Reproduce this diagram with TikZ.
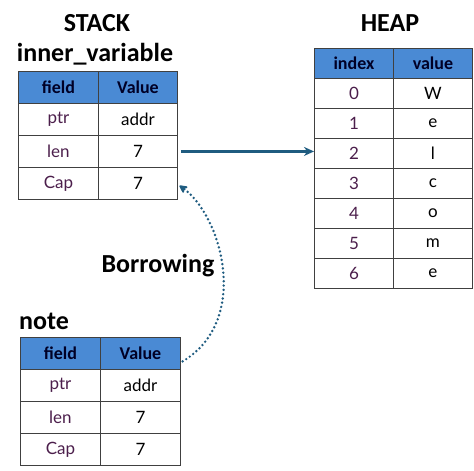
\documentclass[tikz,border=0pt]{standalone}
\usepackage{fontspec}
\setmainfont{Carlito}
\newfontfamily\cellfont{Lato}
\usetikzlibrary{arrows.meta}
\definecolor{hdr}{HTML}{4A8AD4}
\definecolor{grid}{HTML}{404040}
\definecolor{purp}{HTML}{4B1E4B}
\definecolor{arr}{HTML}{1F5C80}
\tikzset{
  cell/.style={draw=grid, line width=0.9pt, minimum height=#1, inner sep=0pt, anchor=north west, font=\cellfont\fontsize{17}{17}\selectfont},
  hcell/.style={cell=#1, fill=hdr, font=\bfseries\fontsize{18}{18}\selectfont, text=black!85!blue},
  title/.style={font=\bfseries\fontsize{26}{26}\selectfont, inner sep=0pt},
}
\begin{document}
\begin{tikzpicture}[x=1pt,y=-1pt]
\useasboundingbox (0,0) rectangle (474,471);
% titles
\node[title] (stack) at (97,23) {STACK};
\node[title] (heap) at (390,23) {HEAP};
\node[title] (inner) at (95,54) {inner\_variable};
\node[title, anchor=west] (notet) at (19,321) {note};
\node[title] (borrow) at (158,266) {Borrowing};
% inner_variable table
\node[hcell=32pt, minimum width=80pt] (t-h-f) at (18,71) {field};
\node[hcell=32pt, minimum width=79pt] (t-h-v) at (98,71) {Value};
\node[cell=32pt, minimum width=80pt, text=purp] (t-ptr-f) at (18,103) {ptr};
\node[cell=32pt, minimum width=79pt] (t-ptr-v) at (98,103) {addr};
\node[cell=32pt, minimum width=80pt, text=purp] (t-len-f) at (18,135) {len};
\node[cell=32pt, minimum width=79pt] (t-len-v) at (98,135) {7};
\node[cell=32pt, minimum width=80pt, text=purp] (t-cap-f) at (18,167) {Cap};
\node[cell=32pt, minimum width=79pt] (t-cap-v) at (98,167) {7};
% note table
\node[hcell=32pt, minimum width=80pt] (b-h-f) at (20,337) {field};
\node[hcell=32pt, minimum width=80pt] (b-h-v) at (100,337) {Value};
\node[cell=32pt, minimum width=80pt, text=purp] (b-ptr-f) at (20,369) {ptr};
\node[cell=32pt, minimum width=80pt] (b-ptr-v) at (100,369) {addr};
\node[cell=32pt, minimum width=80pt, text=purp] (b-len-f) at (20,401) {len};
\node[cell=32pt, minimum width=80pt] (b-len-v) at (100,401) {7};
\node[cell=32pt, minimum width=80pt, text=purp] (b-cap-f) at (20,433) {Cap};
\node[cell=32pt, minimum width=80pt] (b-cap-v) at (100,433) {7};
% heap table
\node[hcell=30pt, minimum width=79pt] (h-h-i) at (314,48) {index};
\node[hcell=30pt, minimum width=79pt] (h-h-v) at (393,48) {value};
\foreach \i/\c in {0/W,1/e,2/l,3/c,4/o,5/m,6/e}{
  \node[cell=30pt, minimum width=79pt, text=purp] (h-\i-i) at (314,78+30*\i) {\i};
  \node[cell=30pt, minimum width=79pt] (h-\i-v) at (393,78+30*\i) {\c};
}
% connectors
\draw[arr, line width=2.6pt, -{Stealth[length=10pt,width=9pt]}, shorten <=3pt]
  (t-len-v.east) -- (t-len-v.east -| h-2-i.west);
\draw[arr, line width=2.7pt, line cap=round, dash pattern=on 0pt off 4.3pt,
  -{Stealth[length=10pt,width=10pt,round=false]}, shorten <=2pt, shorten >=2pt]
  ([yshift=-9pt]b-h-v.east) .. controls +(70,-42) and +(44,32) .. ([yshift=-1pt]t-cap-v.east);
\end{tikzpicture}
\end{document}
